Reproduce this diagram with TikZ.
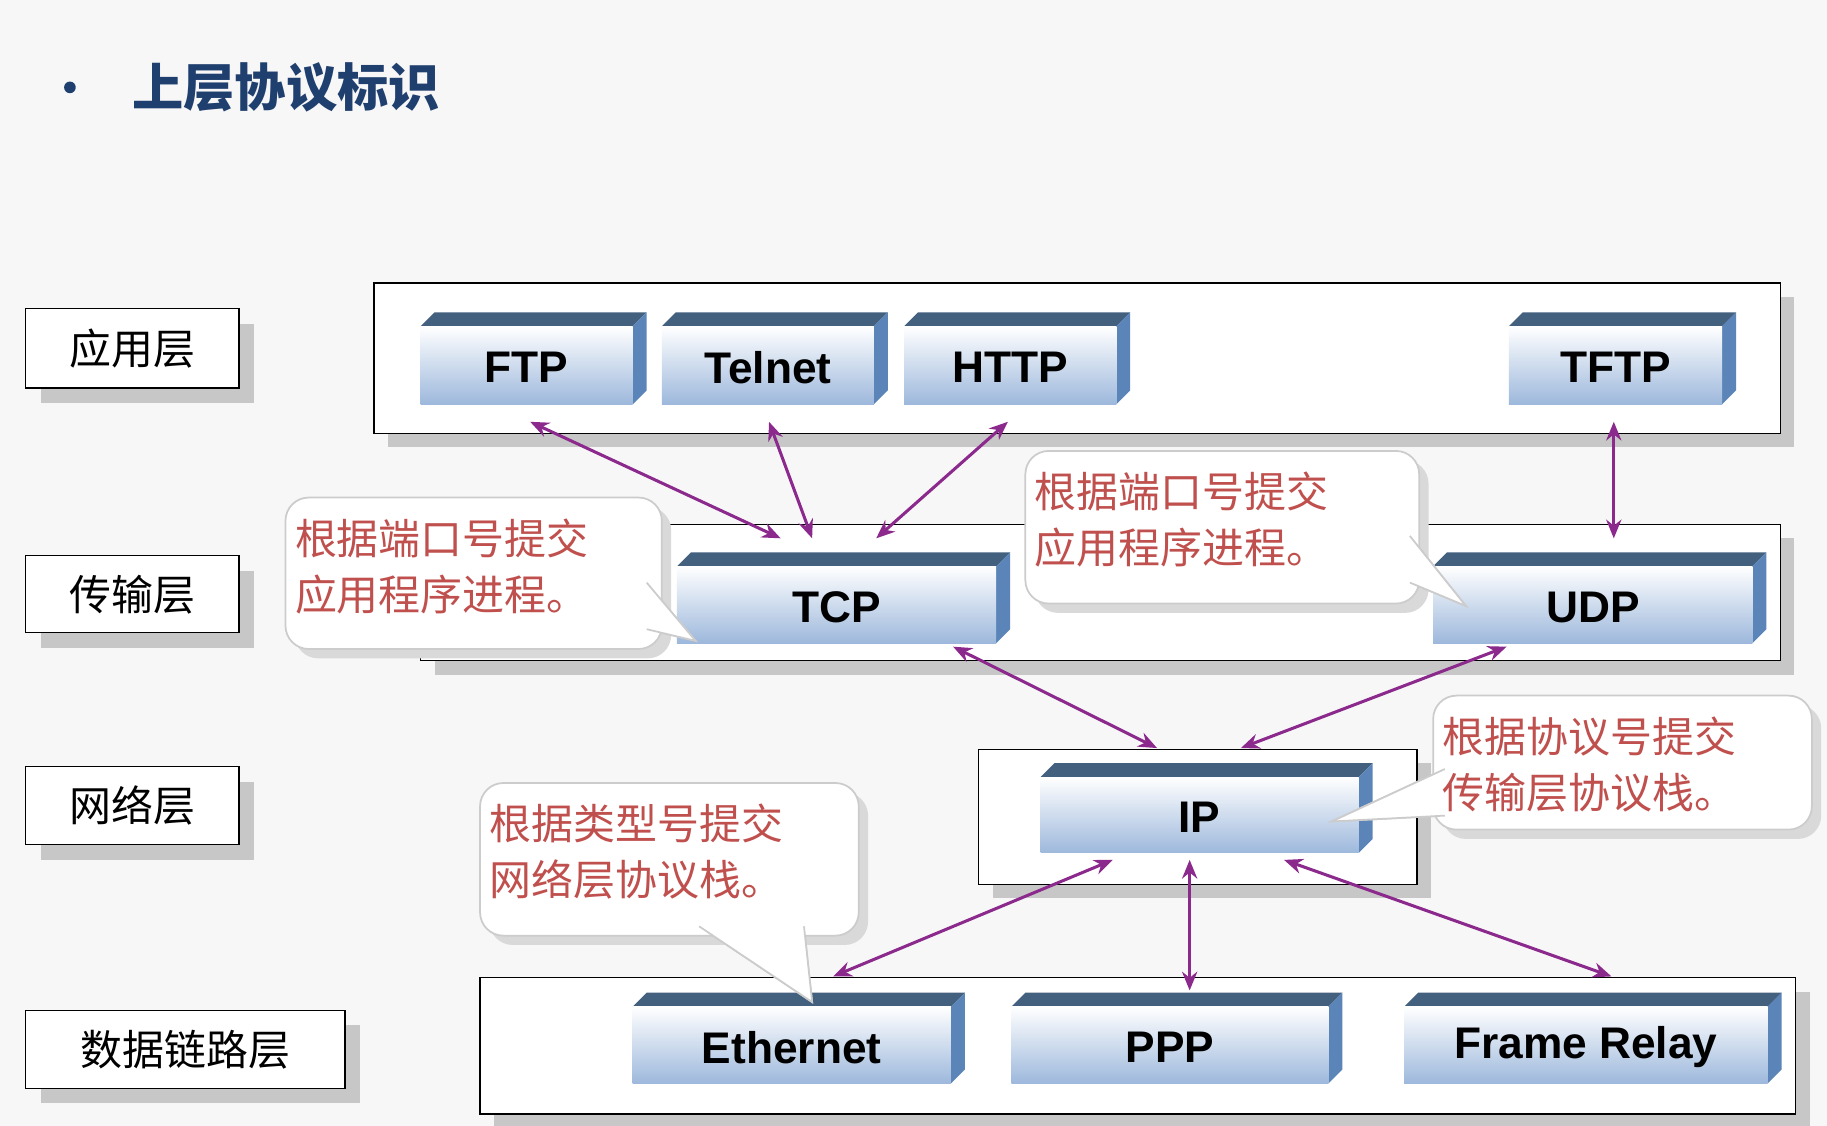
\documentclass[tikz,border=0pt]{standalone}
\usepackage{fontspec}
\setmainfont{Liberation Sans}
\newfontfamily\cjk{Noto Sans CJK SC}
\usetikzlibrary{arrows.meta}
\definecolor{topc}{HTML}{44607F}
\definecolor{sidec}{HTML}{5B85B8}
\definecolor{botc}{HTML}{9DB8DC}
\definecolor{arr}{HTML}{8B2A8C}
\definecolor{redt}{HTML}{C0504D}
\definecolor{titlec}{HTML}{1F3F6E}
\tikzset{
 frame/.style={draw=black,line width=1.2pt,fill=white},
 link/.style={draw=arr,line width=2.6pt,{Stealth[length=16pt,width=13pt]}-{Stealth[length=16pt,width=13pt]}},
 lab/.style={font=\cjk\fontsize{36}{40}\selectfont,anchor=center},
 btxt/.style={font=\bfseries\fontsize{38}{40}\selectfont},
 ctxt/.style={font=\cjk\fontsize{36}{48}\selectfont,text=redt,align=left,anchor=north west,inner sep=0pt},
 callout/.style={fill=white,draw=black!20,line width=1.5pt}
}
\newcommand\probox[6]{% name x1 ybottom x2 ytop text
 \fill[topc] (#2,#5) -- (#2+12,#5-12) -- (#4+12,#5-12) -- (#4,#5) -- cycle;
 \fill[sidec] (#4,#5) -- (#4+12,#5-12) -- (#4+12,#3-12) -- (#4,#3) -- cycle;
 \shade[top color=white,bottom color=botc] (#2,#3) rectangle (#4,#5);
 \node[btxt] (#1) at ({(#2+#4)/2},{(#3+#5)/2+2}) {#6};
}
\newcommand\laybox[6]{% name x1 y1 x2 y2 text
 \fill[black!22] (#2+13,#3+13) rectangle (#4+13,#5+13);
 \draw[frame] (#2,#3) rectangle (#4,#5);
 \node[lab] (#1) at ({(#2+#4)/2},{(#3+#5)/2}) {#6};
}
\newcommand\callbox[8]{% x1 y1 x2 y2 tailA tailB tip text
 \fill[black!15,rounded corners=20pt] (#1+8,#2+8) rectangle (#3+8,#4+8);
 \filldraw[callout] #5 -- #7 -- #6 -- cycle;
 \filldraw[callout,rounded corners=20pt] (#1,#2) rectangle (#3,#4);
 \fill[white] #5 -- #7 -- #6 -- cycle;
 \draw[black!20,line width=1.5pt] #5 -- #7 -- #6;
 \node[ctxt] at (#1+8,#2+18) {#8};
}
\begin{document}
\begin{tikzpicture}[x=1pt,y=-1pt]
\fill[black!3] (0,0) rectangle (1568,966);
\useasboundingbox (0,0) rectangle (1568,966);
% title
\fill[titlec] (60,75) circle (5);
\node[font=\cjk\bfseries\fontsize{44}{48}\selectfont,text=titlec,anchor=west] (title) at (110,75) {上层协议标识};
% layer labels
\laybox{l1}{22}{265}{205}{333}{应用层}
\laybox{l2}{22}{477}{205}{543}{传输层}
\laybox{l3}{22}{658}{205}{725}{网络层}
\laybox{l4}{22}{867}{296}{934}{数据链路层}
% frames
\fill[black!22] (333,255) rectangle (1540,384);
\draw[frame] (321,243) rectangle (1528,372);
\fill[black!22] (373,462) rectangle (1540,579);
\draw[frame] (361,450) rectangle (1528,567);
\fill[black!22] (852,655) rectangle (1228,771);
\draw[frame] (840,643) rectangle (1216,759);
\fill[black!22] (424,851) rectangle (1553,968);
\draw[frame] (412,839) rectangle (1541,956);
% boxes
\probox{ftp}{361}{347}{543}{280}{FTP}
\probox{telnet}{568}{347}{750}{280}{Telnet}
\probox{http}{776}{347}{958}{280}{HTTP}
\probox{tftp}{1295}{347}{1478}{280}{TFTP}
\probox{tcp}{581}{552}{855}{486}{TCP}
\probox{udp}{1230}{552}{1504}{486}{UDP}
\probox{ip}{893}{732}{1166}{667}{IP}
\probox{eth}{543}{930}{816}{864}{Ethernet}
\probox{ppp}{868}{930}{1140}{864}{PPP}
\probox{fr}{1205}{930}{1517}{864}{Frame Relay}
% callouts
\callbox{245}{427}{568}{557}{(555,500)}{(555,540)}{(597,550)}{根据端口号提交\\应用程序进程。}
\callbox{880}{387}{1218}{518}{(1210,460)}{(1210,500)}{(1258,520)}{根据端口号提交\\应用程序进程。}
\callbox{1230}{597}{1555}{712}{(1240,660)}{(1240,700)}{(1143,705)}{根据协议号提交\\传输层协议栈。}
\callbox{412}{672}{737}{803}{(600,795)}{(690,795)}{(697,860)}{根据类型号提交\\网络层协议栈。}
% connectors
\coordinate (a1) at (455,362); \coordinate (b1) at (670,462);
\coordinate (a2) at (660,362); \coordinate (b2) at (697,462);
\coordinate (a3) at (865,362); \coordinate (b3) at (752,462);
\coordinate (a4) at (1385,362); \coordinate (b4) at (1385,462);
\coordinate (a5) at (818,555); \coordinate (b5) at (993,642);
\coordinate (a6) at (1293,555); \coordinate (b6) at (1065,642);
\coordinate (a7) at (955,738); \coordinate (b7) at (715,838);
\coordinate (a8) at (1021,738); \coordinate (b8) at (1021,850);
\coordinate (a9) at (1102,738); \coordinate (b9) at (1383,838);
\foreach \i in {1,...,9} \draw[link] (a\i) -- (b\i);
\end{tikzpicture}
\end{document}
